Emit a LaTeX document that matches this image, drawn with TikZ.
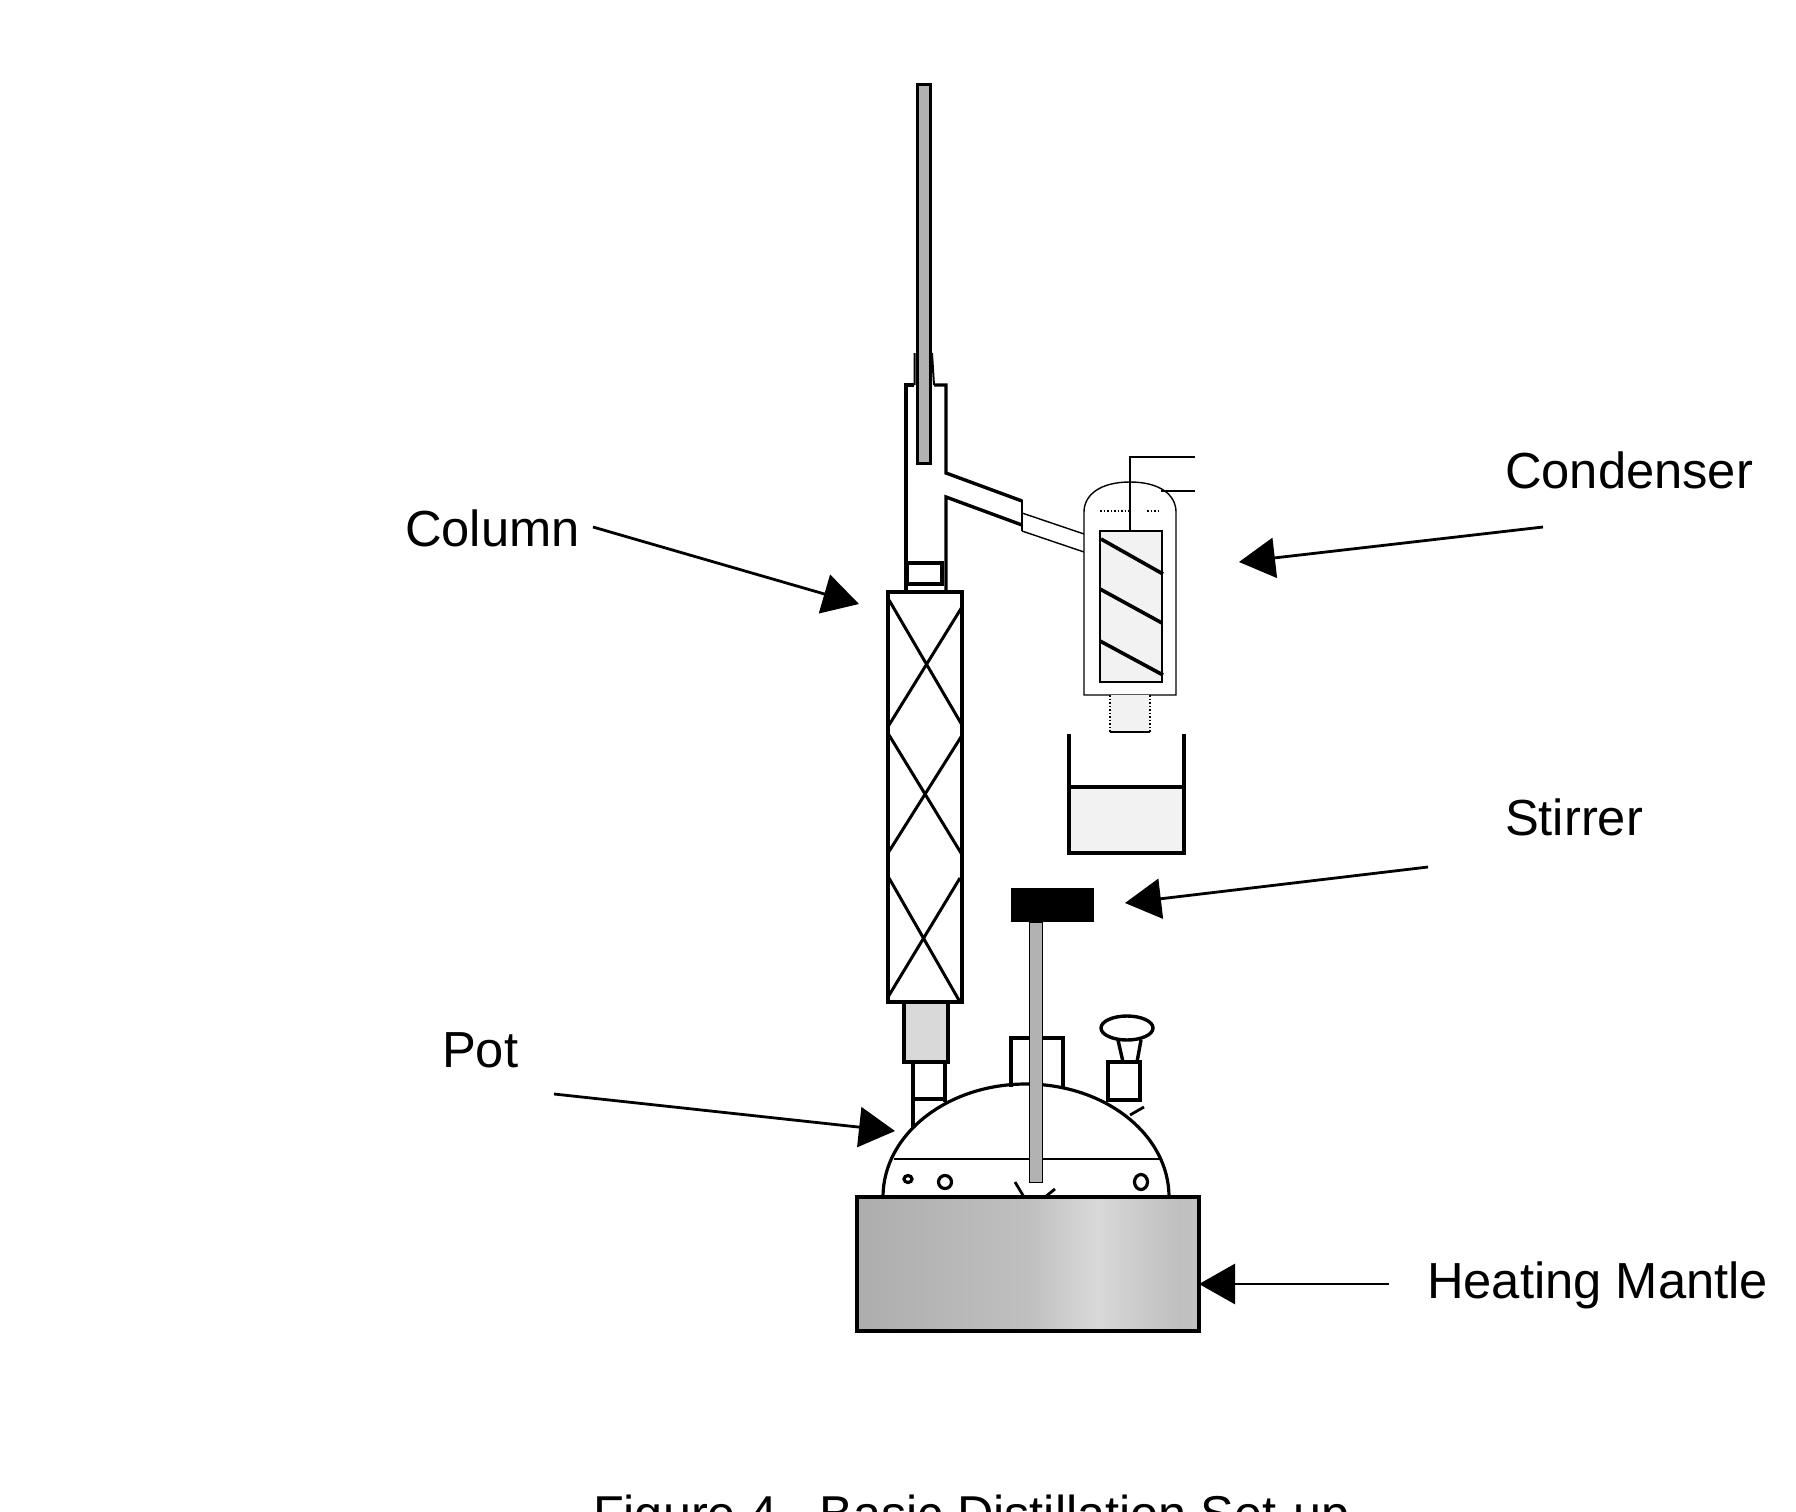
\documentclass[tikz,border=0pt]{standalone}
\usepackage{fontspec}
\setmainfont{Liberation Sans}
\usetikzlibrary{arrows.meta}
\definecolor{dotgray}{gray}{0.70}
\definecolor{lightdot}{gray}{0.95}
\pgfdeclarehorizontalshading{mantleshade}{100bp}{
 color(0bp)=(black!30); color(20bp)=(black!34); color(32bp)=(black!30); color(50bp)=(black!25);
 color(60bp)=(black!15); color(72bp)=(black!25); color(85bp)=(black!21); color(100bp)=(black!33)}
\tikzset{
 x=1pt,y=-1pt,
 glass/.style={draw=black,line width=3.4pt,line join=miter},
 thin glass/.style={draw=black,line width=1.4pt},
 thick bar/.style={draw=black,line width=4.2pt},
 cross bar/.style={draw=black,line width=3pt},
 lbl/.style={anchor=base west,inner sep=0pt,outer sep=0pt,font=\fontsize{50.7}{60}\selectfont},
 pointer/.style={draw=black,line width=2.8pt,-{Triangle[length=36pt,width=40pt]},shorten >=0pt},
 faint/.style={draw=black,line width=1.1pt,dash pattern=on 1.5pt off 2pt}
}
\begin{document}
\begin{tikzpicture}
\useasboundingbox (0,0) rectangle (1796,1512);
\clip (0,0) rectangle (1796,1512);
\fill[white] (0,0) rectangle (1796,1512);

% still head
\draw[draw=black,line width=2pt] (914.5,353) -- (914.5,385) (932,353) -- (934,385);
\draw[glass] (914,385) -- (906,385) -- (906,590);
\draw[glass] (934,385) -- (946,385) -- (946,473) -- (1022,501);
\draw[glass] (1022,525) -- (946,497) -- (946,590);
\draw[glass] (907,563) rectangle (942,584);
\draw[draw=black,line width=1.6pt] (1022,500) -- (1022,531);
% thermometer
\draw[glass,line width=3pt,fill=dotgray] (917,84) rectangle (930,463);
% thin tube to condenser
\draw[thin glass] (1022,513) -- (1084,534) (1022,531) -- (1084,552);

% column
\draw[cross bar] (889,600) -- (962,725) (962,607) -- (889,725)
  (889,735) -- (961,853) (961,737) -- (888,853)
  (889,878) -- (960,1002) (960,878) -- (888,997);
\draw[glass] (888,592) rectangle (962,1002);

% condenser
\draw[thin glass,fill=white] (1084,695) -- (1084,512) .. controls (1084,495) and (1100,482) .. (1130,482)
  .. controls (1160,482) and (1176,495) .. (1176,512) -- (1176,695) -- cycle;
\draw[faint] (1100,511) -- (1130,511) (1147,511) -- (1161,511);
\draw[line width=1.3pt,fill=lightdot] (1100,531) rectangle (1162,682);
\draw[line width=2pt] (1130,531) -- (1130,457) -- (1195,457) (1161,491) -- (1195,491);
\draw[line width=3.6pt] (1101,539) -- (1163,574) (1100,589) -- (1162,623) (1100,641) -- (1163,675);
\fill[lightdot] (1110,695) rectangle (1150,732);
\draw[faint] (1110,695) -- (1110,732) (1150,695) -- (1150,732);
\draw[draw=black,line width=1.2pt] (1110,732) -- (1150,732);

% receiver
\fill[lightdot] (1069,787) rectangle (1184,853);
\draw[thick bar] (1069,734) -- (1069,853) -- (1184,853) -- (1184,734) (1069,787) -- (1184,787);

% stirrer
\fill[black] (1011,888) rectangle (1094,922);

% pot necks
\draw[glass,fill=white] (1011,1087) -- (1011,1038) -- (1063,1038) -- (1063,1087);
\draw[glass,fill=dotgray!50] (904,1002) rectangle (948,1062);
\draw[glass] (913,1062) -- (913,1127) (945,1062) -- (945,1102) (913,1099) -- (945,1099);
\draw[glass,fill=white] (1108,1100) -- (1108,1062) -- (1140,1062) -- (1140,1100) -- cycle;
\draw[glass] (1118,1040) -- (1123,1062) (1141,1040) -- (1137,1062);
\draw[glass,fill=white] (1127,1028) ellipse [x radius=26,y radius=12];

% pot dome
\draw[line width=3.2pt] (883,1197) arc [start angle=180,end angle=0,x radius=143pt,y radius=113pt];
\draw[line width=2.8pt] (894,1159) -- (1162,1159);
\draw[line width=3.2pt] (908,1179) ellipse [x radius=4,y radius=3.5];
\draw[line width=3.2pt] (945,1182) circle [radius=6.5];
\draw[line width=3.2pt] (1141,1182) ellipse [x radius=6.5,y radius=7.5];
\draw[line width=2.8pt] (1015,1182) -- (1024,1197) (1055,1189) -- (1045,1197) (1130,1115) -- (1144,1107);

% stirrer shaft
\draw[draw=black,line width=0.6pt,fill=dotgray] (1029,922) rectangle (1042,1182);

% mantle
\path[shading=mantleshade] (857,1197) rectangle (1199,1331);
\draw[glass] (857,1197) rectangle (1199,1331);

% labels
\node[lbl] (column)    at (405,546) {Column};
\node[lbl] (condenser) at (1505,488) {Condenser};
\node[lbl] (stirrer)   at (1505,835) {Stirrer};
\node[lbl] (pot)       at (442,1067) {Pot};
\node[lbl] (mantle)    at (1427,1298) {Heating Mantle};
\node[lbl,font=\fontsize{50.4}{60}\selectfont] (caption) at (593,1531) {Figure 4.\ \ Basic Distillation Set-up};

% pointers
\coordinate (c1) at (593,527);   \coordinate (c2) at (859,604);
\coordinate (d1) at (1543,527);  \coordinate (d2) at (1239,562);
\coordinate (s1) at (1428,867);  \coordinate (s2) at (1125,903);
\coordinate (p1) at (554,1094);  \coordinate (p2) at (895,1131);
\coordinate (m1) at (1389,1284); \coordinate (m2) at (1199,1284);
\draw[pointer] (c1) -- (c2);
\draw[pointer] (d1) -- (d2);
\draw[pointer] (s1) -- (s2);
\draw[pointer] (p1) -- (p2);
\draw[pointer] (m1) -- (m2);
\end{tikzpicture}
\end{document}
